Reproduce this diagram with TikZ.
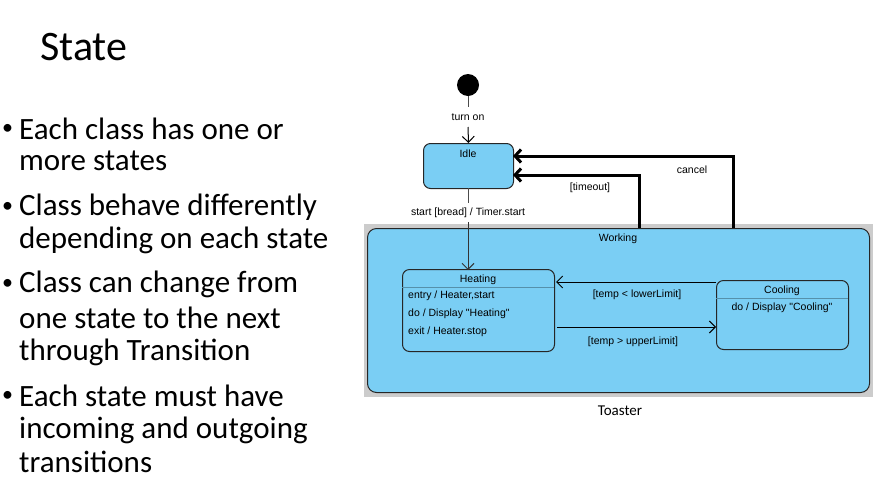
\documentclass[tikz,border=0pt]{standalone}
\usepackage{fontspec}
\setmainfont{Carlito}
\newfontfamily\arialf{Liberation Sans}
\usetikzlibrary{arrows.meta}
\definecolor{stfill}{RGB}{122,206,244}
\begin{document}
\begin{tikzpicture}[x=1pt,y=-1pt,
  lbl/.style={font=\arialf\fontsize{10.5}{12}\selectfont, inner sep=1pt},
  st/.style={draw=black!85, fill=stfill, rounded corners=7pt, line width=1pt},
  open/.style={-{Straight Barb[length=6pt,width=12pt]}, line width=1pt},
  thick arr/.style={-{Straight Barb[length=6pt,width=13pt]}, line width=3pt},
  bul/.style={font=\fontsize{31}{36}\selectfont, anchor=west, inner sep=0pt}]
\useasboundingbox (0,0) rectangle (882,488);
\node[font=\fontsize{42}{46}\selectfont, anchor=west, inner sep=0pt] (title) at (40,47) {State};
\foreach \y/\t in {129/{Each class has one or},207/{Class behave differently},284/{Class can change from},396/{Each state must have}}
  {\node[bul, font=\fontsize{22}{26}\selectfont] at (2,\y) {•}; \node[bul] at (19,\y) {\t};}
\foreach \y/\t in {161/{more states},240/{depending on each state},318/{one state to the next},352/{through Transition},430/{incoming and outgoing},462/{transitions}}
  {\node[bul] at (19,\y) {\t};}
% diagram
\fill[black!20] (364,224) rectangle (873,397);
\node[st, minimum width=502pt, minimum height=164pt, anchor=north west, rounded corners=9pt] (work) at (367,228) {};
\node[lbl] (worklbl) at (618,239) {Working};
\node[st, minimum width=90pt, minimum height=45pt, anchor=north west] (idle) at (423,143) {};
\node[lbl] at (468,154) {Idle};
\fill (468,85) circle (11pt) coordinate (init);
\node[st, minimum width=152pt, minimum height=82pt, anchor=north west] (heat) at (402,269) {};
\node[lbl] at (478,280) {Heating};
\draw[stfill!70!black, line width=0.4pt] (402,287) -- (554,287);
\node[lbl, anchor=west] at (407,296) {entry / Heater,start};
\node[lbl, anchor=west] at (407,314) {do / Display "Heating"};
\node[lbl, anchor=west] at (407,332) {exit / Heater.stop};
\node[st, minimum width=132pt, minimum height=69pt, anchor=north west] (cool) at (716,280) {};
\node[lbl] at (782,291) {Cooling};
\draw[stfill!70!black, line width=0.4pt] (716,298) -- (848,298);
\node[lbl] at (782,308) {do / Display "Cooling"};
% transitions
\node[lbl] (ton) at (468,117) {turn on};
\draw[line width=0.8pt, black!70] (468,96) -- (468,107);
\draw[open] (468,127) -- (idle.north);
\node[lbl] (stl) at (468,213) {start [bread] / Timer.start};
\draw[line width=0.8pt, black!70] (468,188) -- (468,203);
\draw[open, black!80] (468,222) -- (468,270);
\draw[open] (716,282) -- (556,282);
\node[lbl] at (637,295) {[temp < lowerLimit]};
\draw[open] (557,327) -- (716,327);
\node[lbl] at (633,342) {[temp > upperLimit]};
\draw[thick arr] (639,228) -- (639,175) -- (513,175);
\node[lbl] at (590,188) {[timeout]};
\draw[thick arr] (733,228) -- (733,156) -- (513,156);
\node[lbl] at (692,170) {cancel};
\node[font=\fontsize{15}{18}\selectfont] (toaster) at (620,411) {Toaster};
\end{tikzpicture}
\end{document}
